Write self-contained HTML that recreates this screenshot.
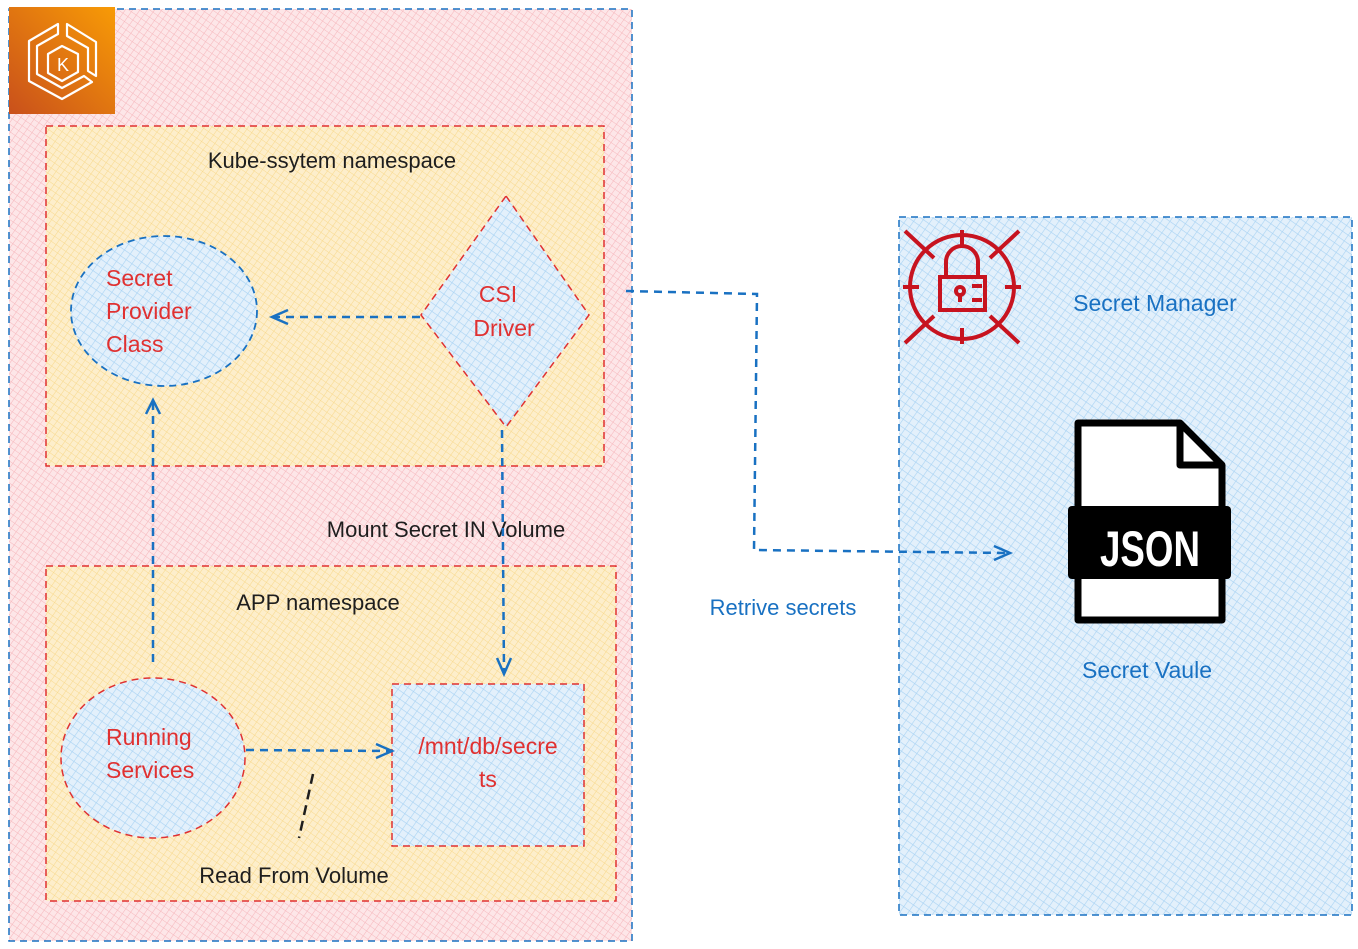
<!DOCTYPE html>
<html><head><meta charset="utf-8"><style>
html,body{margin:0;padding:0;background:#fff;}
svg{display:block;}
text{font-family:"Comic Sans MS","Liberation Sans",sans-serif;}
</style></head><body>
<svg width="1358" height="949" viewBox="0 0 1358 949" xmlns="http://www.w3.org/2000/svg">
<defs>
<pattern id="pk" width="6" height="6" patternUnits="userSpaceOnUse" patternTransform="rotate(35)">
<rect width="6" height="6" fill="#fde6e8"/><path d="M0 0H6M0 0V6" stroke="#f6b8bd" stroke-width="1.1"/></pattern>
<pattern id="yl" width="6" height="6" patternUnits="userSpaceOnUse" patternTransform="rotate(35)">
<rect width="6" height="6" fill="#fdeecb"/><path d="M0 0H6M0 0V6" stroke="#f8d98e" stroke-width="1.1"/></pattern>
<pattern id="bl" width="7" height="7" patternUnits="userSpaceOnUse" patternTransform="rotate(35)">
<rect width="7" height="7" fill="#e3f0fb"/><path d="M0 0H7M0 0V7" stroke="#a9d3f3" stroke-width="1.2"/></pattern>
<linearGradient id="og" x1="1" y1="0" x2="0" y2="1"><stop offset="0" stop-color="#f89b06"/><stop offset="1" stop-color="#c9501b"/></linearGradient>
</defs>
<!-- EKS cluster -->
<rect x="9" y="9" width="623" height="932" fill="url(#pk)" stroke="#1971c2" stroke-width="1.5" stroke-dasharray="7 5"/>
<rect x="9" y="7" width="106" height="107" fill="url(#og)"/>
<g fill="none" stroke="#fff" stroke-width="2.2" stroke-linejoin="round">
<path d="M58 24 L29 41 L29 81 L62 99 L92 82 L84 76 L62 88 L37 74 L37 46 L58 34 Z"/>
<path d="M67 24 L67 36 L88 48 L88 71 L96 76 L96 42 Z"/>
<path d="M62 46 L48 54 L48 73 L62 81 L78 72 L78 54 Z"/>
</g>
<text x="63" y="71" fill="#fff" font-size="18" text-anchor="middle" font-family="Liberation Sans">K</text>
<!-- kube-system -->
<rect x="46" y="126" width="558" height="340" fill="url(#yl)" stroke="#e03131" stroke-width="1.5" stroke-dasharray="7 5"/>
<text x="332" y="168" font-size="22" text-anchor="middle" fill="#1e1e1e">Kube-ssytem namespace</text>
<ellipse cx="164" cy="311" rx="93" ry="75" fill="url(#bl)" stroke="#1971c2" stroke-width="1.8" stroke-dasharray="7 5"/>
<text fill="#e03131" font-size="23"><tspan x="106" y="286">Secret</tspan><tspan x="106" y="319">Provider</tspan><tspan x="106" y="352">Class</tspan></text>
<path d="M506 196 L589 315 L506 427 L421 315 Z" fill="url(#bl)" stroke="#e03131" stroke-width="1.5" stroke-dasharray="7 5"/>
<text fill="#e03131" font-size="23" text-anchor="middle"><tspan x="498" y="302">CSI</tspan><tspan x="504" y="336">Driver</tspan></text>
<!-- APP namespace -->
<rect x="46" y="566" width="570" height="335" fill="url(#yl)" stroke="#e03131" stroke-width="1.5" stroke-dasharray="7 5"/>
<text x="318" y="610" font-size="22" text-anchor="middle" fill="#1e1e1e">APP namespace</text>
<ellipse cx="153" cy="758" rx="92" ry="80" fill="url(#bl)" stroke="#e03131" stroke-width="1.5" stroke-dasharray="7 5"/>
<text fill="#e03131" font-size="23"><tspan x="106" y="745">Running</tspan><tspan x="106" y="778">Services</tspan></text>
<rect x="392" y="684" width="192" height="162" fill="url(#bl)" stroke="#e03131" stroke-width="1.5" stroke-dasharray="7 5"/>
<text fill="#e03131" font-size="23" text-anchor="middle"><tspan x="488" y="754">/mnt/db/secre</tspan><tspan x="488" y="787">ts</tspan></text>
<text x="446" y="537" font-size="22" text-anchor="middle" fill="#1e1e1e">Mount Secret IN Volume</text>
<text x="294" y="883" font-size="22" text-anchor="middle" fill="#1e1e1e">Read From Volume</text>
<path d="M313 774 L299 838" stroke="#1e1e1e" stroke-width="2.5" stroke-dasharray="10 6"/>
<!-- Secret manager -->
<rect x="899" y="217" width="453" height="698" fill="url(#bl)" stroke="#1971c2" stroke-width="1.5" stroke-dasharray="7 5"/>
<!-- arrows -->
<g fill="none" stroke="#1971c2" stroke-width="2.5" stroke-dasharray="8 6">
<path d="M420 317 L272 317"/>
<path d="M153 662 L153 400"/>
<path d="M502 430 L504 672"/>
<path d="M246 750 L390 751"/>
<path d="M626 291 L757 294 L754 550 L1008 553"/>
</g>
<g fill="none" stroke="#1971c2" stroke-width="2.5">
<path d="M288 310 L272 317 L288 324"/>
<path d="M146 414 L153 400 L160 414"/>
<path d="M497 658 L504 674 L511 658"/>
<path d="M376 744 L392 751 L376 758"/>
<path d="M994 546 L1010 553 L994 560"/>
</g>
<text x="783" y="615" font-size="22" text-anchor="middle" fill="#1971c2">Retrive secrets</text>
<g stroke="#c7131f" stroke-width="4" fill="none">
<circle cx="962" cy="287" r="52"/>
<path d="M905 231 L934 258 M1019 231 L990 258 M905 343 L934 316 M1019 343 L990 316 M962 230 V246 M962 328 V344 M903 287 H919 M1005 287 H1021"/>
<path d="M946 277 V262 a16 16 0 0 1 32 0 V277"/>
<rect x="940" y="277" width="45" height="33" stroke-width="4"/>
<circle cx="960" cy="291" r="4"/><path d="M960 295 V302 M972 286 H982 M972 300 H982"/>
</g>
<text x="1155" y="311" font-size="23" text-anchor="middle" fill="#1971c2">Secret Manager</text>
<!-- JSON file -->
<path d="M1078 423 L1180 423 L1222 465 L1222 620 L1078 620 Z" fill="#fff" stroke="#000" stroke-width="7" stroke-linejoin="round"/>
<path d="M1180 423 L1180 465 L1222 465" fill="none" stroke="#000" stroke-width="7" stroke-linejoin="round"/>
<rect x="1068" y="506" width="163" height="73" rx="4" fill="#000"/>
<text x="1100" y="566" font-size="50" font-weight="bold" fill="#fff" textLength="100" lengthAdjust="spacingAndGlyphs" font-family="Liberation Sans Narrow,Liberation Sans,sans-serif">JSON</text>
<text x="1147" y="678" font-size="23" text-anchor="middle" fill="#1971c2">Secret Vaule</text>
</svg>
</body></html>
